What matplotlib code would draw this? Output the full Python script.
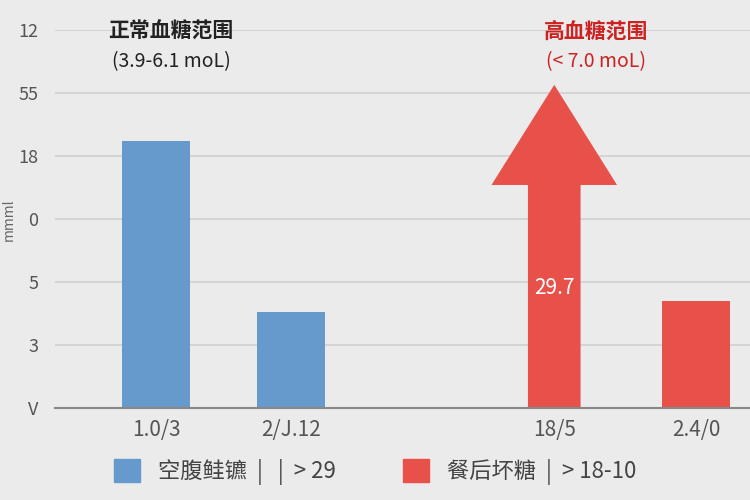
import matplotlib
matplotlib.use("Agg")
import matplotlib.pyplot as plt
from matplotlib.patches import Patch

plt.rcParams['font.family'] = ['Noto Sans CJK SC', 'DejaVu Sans']

categories = ['1.0/3', '2/J.12', '18/5', '2.4/0']
positions = [0, 1, 2.95, 4]
blue_values = [4.24, 1.52]
red_value = 1.70
arrow_value = 5.13
arrow_label = '29.7'
ytick_labels = ['V', '3', '5', '0', '18', '55', '12']

bg = '#ebebeb'
blue = '#6699cc'
red = '#e8504a'

fig = plt.figure(figsize=(7.5, 5), dpi=100, facecolor=bg)
ax = fig.add_axes([0.073, 0.184, 0.927, 0.756], facecolor=bg)
ax.set_xlim(-0.75, 4.4)
ax.set_ylim(0, 6)
ax.set_yticks(range(7))
ax.set_yticklabels(ytick_labels, color='#555555', fontsize=13)
ax.grid(axis='y', color='#d0d0d0', lw=1.2)
ax.set_axisbelow(True)
for s in ['top', 'right', 'left']:
    ax.spines[s].set_visible(False)
ax.spines['bottom'].set_color('#888888')
ax.spines['bottom'].set_linewidth(1.5)
ax.tick_params(axis='y', length=0, pad=12)
ax.tick_params(axis='x', length=0, pad=8)
ax.set_xticks(positions)
ax.set_xticklabels(categories, fontsize=15, color='#555555')

ax.bar(positions[:2], blue_values, width=0.5, color=blue)
ax.bar(positions[3], red_value, width=0.5, color=red)
head_len = arrow_value - 3.54
ax.arrow(positions[2], 0, 0, arrow_value - head_len, width=0.39,
         head_width=0.93, head_length=head_len, length_includes_head=False,
         color=red, lw=0)
ax.text(positions[2], 1.9, arrow_label, color='white', fontsize=15, ha='center', va='center')

fig.text(0.003, 0.56, 'mmml', rotation=90, color='#666666', fontsize=10, va='center')
fig.text(0.228, 0.925, '正常血糖范围', fontsize=15, fontweight='bold', ha='center', color='#222222')
fig.text(0.228, 0.865, '(3.9-6.1 moL)', fontsize=14, ha='center', color='#222222')
fig.text(0.795, 0.925, '高血糖范围', fontsize=15, fontweight='bold', ha='center', color='#cc2222')
fig.text(0.795, 0.865, '(< 7.0 moL)', fontsize=14, ha='center', color='#cc2222')

handles = [Patch(color=blue), Patch(color=red)]
fig.legend(handles, ['空腹鲑镳  |   |  > 29', '餐后坏糖  |  > 18-10'], loc='lower center',
           ncol=2, frameon=False, fontsize=16, bbox_to_anchor=(0.5, -0.01),
           handlelength=1.2, handleheight=1.2, columnspacing=3, labelcolor='#444444')
fig.savefig('out.png', dpi=100, facecolor=bg)
